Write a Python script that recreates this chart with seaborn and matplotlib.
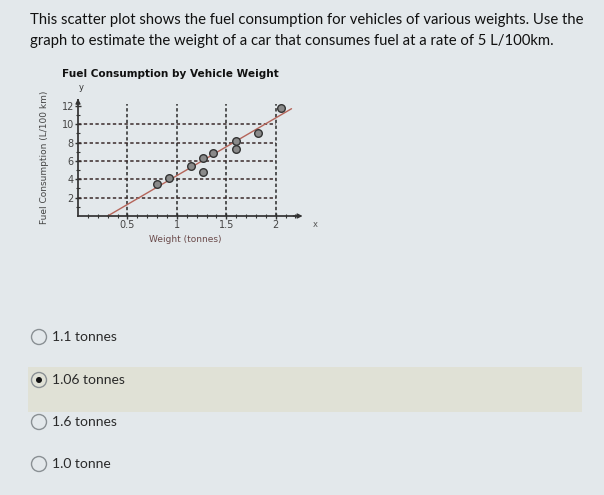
import matplotlib
matplotlib.use("Agg")
import matplotlib.pyplot as plt
import seaborn as sns
import numpy as np
import pandas as pd
from matplotlib.patches import Ellipse, Rectangle

# ---------------- data ----------------
weights = [0.80, 0.92, 1.14, 1.26, 1.26, 1.37, 1.60, 1.60, 1.82, 2.05]
fuel = [3.5, 4.1, 5.5, 6.3, 4.8, 6.9, 8.2, 7.3, 9.0, 11.8]
trend_x = [0.30, 2.16]
trend_y = [0.0, 11.7]
x_ticks = [0.5, 1, 1.5, 2]
x_tick_labels = ["0.5", "1", "1.5", "2"]
y_ticks = [2, 4, 6, 8, 10, 12]
y_grid = [2, 4, 6, 8, 10]
title = "Fuel Consumption by Vehicle Weight"
x_label = "Weight (tonnes)"
y_label = "Fuel Consumption (L/100 km)"
question = ["This scatter plot shows the fuel consumption for vehicles of various weights. Use the",
            "graph to estimate the weight of a car that consumes fuel at a rate of 5 L/100km."]
options = ["1.1 tonnes", "1.06 tonnes", "1.6 tonnes", "1.0 tonne"]
selected = 1

df = pd.DataFrame({"weight": weights, "fuel": fuel})
trend = pd.DataFrame({"weight": trend_x, "fuel": trend_y})

sns.set_theme(style="white")
plt.rcParams['font.family'] = ['Lato', 'DejaVu Sans']

W, H = 604, 495
fig = plt.figure(figsize=(W / 100, H / 100), dpi=100)
bg = "#e3e8eb"
fig.patch.set_facecolor(bg)

def fx(px):
    return px / W

def fy(py):
    return 1 - py / H

# question text
fig.text(fx(30), fy(20), question[0], fontsize=10.7, color="#111111", va="center", ha="left")
fig.text(fx(30), fy(41), question[1], fontsize=10.7, color="#111111", va="center", ha="left")

# highlight band for the selected option
band_top, band_bot = 367, 412
fig.patches.append(Rectangle((fx(28), fy(band_bot)), fx(582 - 28), fy(band_top) - fy(band_bot),
                             transform=fig.transFigure, facecolor="#e0e1d6", edgecolor="none", zorder=0))

opt_y = [337, 380, 422, 464]
for i, (lab, py) in enumerate(zip(options, opt_y)):
    fig.patches.append(Ellipse((fx(39), fy(py)), 15 / W, 15 / H, transform=fig.transFigure,
                               facecolor="none", edgecolor="#8a9094", lw=1.0))
    fig.text(fx(52), fy(py), lab, fontsize=10, color="#2a2a2a", va="center", ha="left")
fig.patches.append(Ellipse((fx(39), fy(opt_y[selected])), 6 / W, 6 / H, transform=fig.transFigure,
                           facecolor="#111111", edgecolor="none"))

# ---------------- chart ----------------
x0_px, x_scale = 78.0, 98.85   # px of x=0, px per unit
y0_px, y_scale = 216.0, 9.17
xlim = (-0.35, 2.4)
ylim = (-1.5, 14.0)
left = x0_px + xlim[0] * x_scale
right = x0_px + xlim[1] * x_scale
bottom = y0_px - ylim[0] * y_scale
top = y0_px - ylim[1] * y_scale
ax = fig.add_axes([fx(left), fy(bottom), (right - left) / W, (bottom - top) / H])
ax.set_facecolor("none")
ax.set_xlim(*xlim)
ax.set_ylim(*ylim)

# grid lines
ax.vlines(x_ticks, 0, 12.2, colors="#2a2a2a", linestyles=(0, (2.2, 1.6)), lw=1.1, zorder=1)
ax.hlines(y_grid, 0, 2, colors="#3a2a2a", linestyles=(0, (2.2, 1.6)), lw=1.1, zorder=1)

# trend line
sns.lineplot(data=trend, x="weight", y="fuel", ax=ax, color="#b5655a", lw=1.0, zorder=2)
# points
sns.scatterplot(data=df, x="weight", y="fuel", ax=ax, s=30, color="#8a8a8a",
                edgecolor="#333333", linewidth=1.0, zorder=3)

# axes at zero
for s in ["top", "right"]:
    ax.spines[s].set_visible(False)
ax.spines["left"].set_position(("data", 0))
ax.spines["bottom"].set_position(("data", 0))
ax.spines["left"].set_bounds(0, 12.6)
ax.spines["bottom"].set_bounds(0, 2.22)
ax.spines["left"].set_color("#333333")
ax.spines["bottom"].set_color("#333333")
ax.annotate("", xy=(2.3, 0), xytext=(2.15, 0),
            arrowprops=dict(arrowstyle="-|>", color="#333333", lw=1.0, mutation_scale=7))
ax.annotate("", xy=(0, 13.1), xytext=(0, 12.3),
            arrowprops=dict(arrowstyle="-|>", color="#333333", lw=1.0, mutation_scale=7))
ax.text(2.4, -0.9, "x", fontsize=6, color="#555555", ha="center", va="center", family="DejaVu Sans")
ax.text(0.03, 14.0, "y", fontsize=6, color="#333333", ha="center", va="center", family="DejaVu Sans")

ax.set_xticks(x_ticks)
ax.set_xticklabels(x_tick_labels)
ax.set_yticks(y_ticks)
ax.set_xticks(np.arange(0.1, 2.21, 0.1), minor=True)
ax.set_yticks(np.arange(1, 12.1, 1), minor=True)
ax.tick_params(axis="both", which="major", direction="inout", length=4, width=1, colors="#333333",
               labelsize=7, pad=1, labelcolor="#444444", bottom=True, left=True)
ax.tick_params(axis="both", which="minor", direction="inout", length=2.5, width=0.8, colors="#333333",
               bottom=True, left=True)
for t in ax.get_xticklabels() + ax.get_yticklabels():
    t.set_family("DejaVu Sans")
ax.set_xlabel("")
ax.set_ylabel("")

fig.text(fx(185), fy(239), x_label, fontsize=6.5, color="#6a4a4a", ha="center", va="center",
         family="DejaVu Sans")
fig.text(fx(45), fy(157), y_label, fontsize=6.5, color="#444444", ha="center", va="center",
         rotation=90, family="DejaVu Sans")
fig.text(fx(170), fy(74), title, fontsize=7.6, fontweight="bold", color="#111111",
         ha="center", va="center", family="DejaVu Sans")

fig.savefig("out.png", dpi=100, facecolor=bg)
